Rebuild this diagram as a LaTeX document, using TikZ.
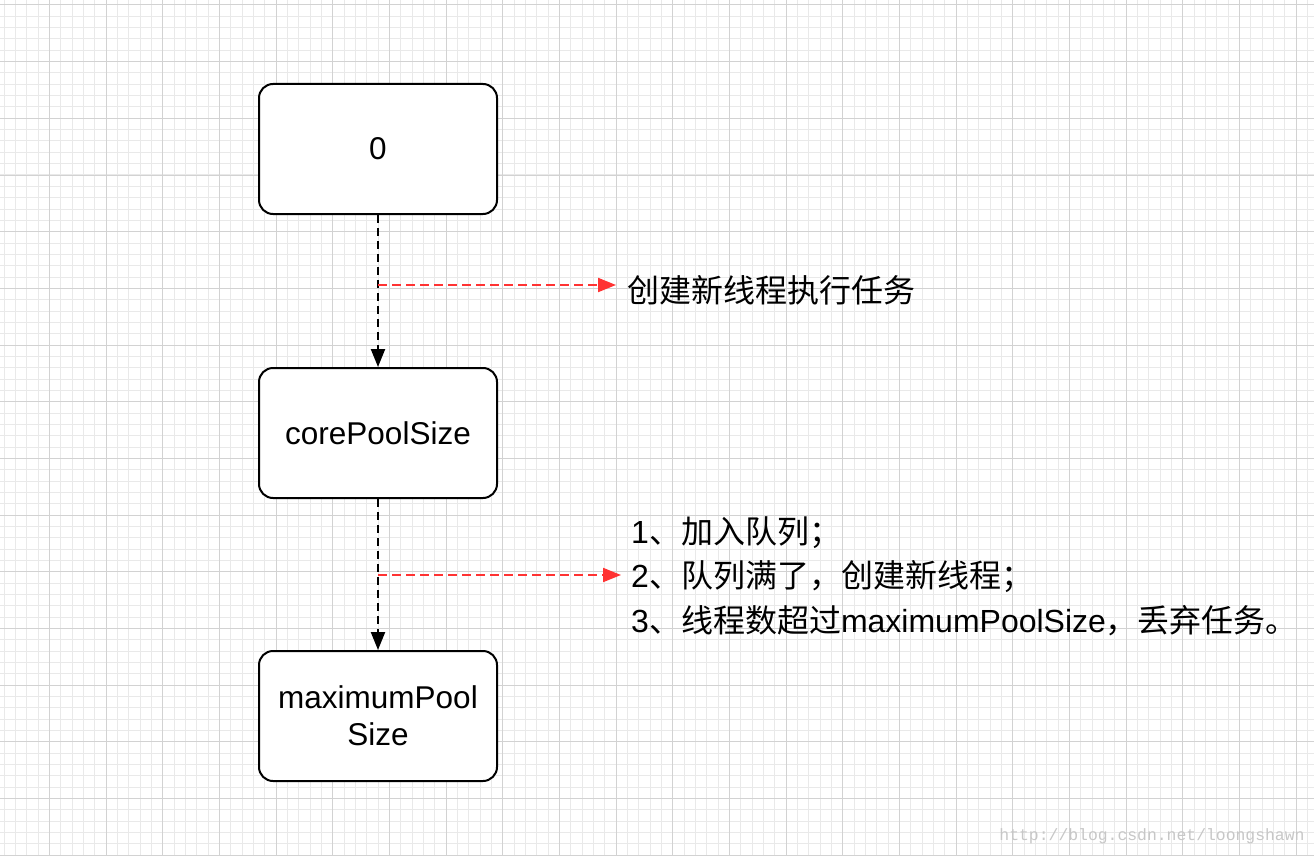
\documentclass[tikz,border=0pt]{standalone}
\usepackage{fontspec}
\setmainfont{Liberation Sans}
\newfontfamily\cjk{Noto Sans CJK SC}
\newfontfamily\wmfont{Liberation Mono}
\usetikzlibrary{arrows.meta}
\newcommand\zh[1]{{\cjk #1}}
\definecolor{gridminor}{HTML}{E9E9E9}
\definecolor{gridmajor}{HTML}{D2D2D2}
\definecolor{redline}{HTML}{FF3333}
\tikzset{
  box/.style={draw, line width=2pt, rounded corners=14pt, fill=white,
    minimum width=238pt, minimum height=130pt, inner sep=0pt,
    font=\fontsize{31.5}{37}\selectfont, align=center},
  blackarrow/.style={line width=2.2pt, dash pattern=on 8pt off 5pt,
    -{Triangle[length=18pt,width=14pt]}},
  redarrow/.style={line width=2pt, draw=redline, dash pattern=on 9pt off 5pt,
    -{Triangle[length=18pt,width=14pt,fill=redline]}},
  note/.style={anchor=west, inner sep=0pt, align=left,
    font=\fontsize{32}{44.5}\selectfont},
}
\begin{document}
\begin{tikzpicture}[x=1pt,y=-1pt]
\useasboundingbox (0,0) rectangle (1314,856);
\fill[white] (0,0) rectangle (1314,856);
% grid
\foreach \i in {0,...,116} \draw[gridminor, line width=1pt] ({4+\i*11.3333},0) -- ++(0,856);
\foreach \i in {0,...,76} \draw[gridminor, line width=1pt] (0,{5+\i*11.3333}) -- ++(1314,0);
\foreach \i in {0,...,23} \draw[gridmajor, line width=1pt] ({-7.33+\i*56.6667},0) -- ++(0,856);
\foreach \i in {0,...,15} \draw[gridmajor, line width=1pt] (0,{5+\i*56.6667}) -- ++(1314,0);
% boxes
\node[box] (b1) at (378,149) {0};
\node[box] (b2) at (378,433) {corePoolSize};
\node[box] (b3) at (378,716) {maximumPool\\Size};
% black arrows
\draw[blackarrow] (b1) -- (b2);
\draw[blackarrow] (b2) -- (b3);
% red arrows
\coordinate (r1s) at (378,285);
\coordinate (r1e) at (616,285);
\coordinate (r2s) at (378,575);
\coordinate (r2e) at (621,575);
\draw[redarrow] (r1s) -- (r1e);
\draw[redarrow] (r2s) -- (r2e);
% notes
\node[note] (t1) at (627,290) {\zh{创建新线程执行任务}};
\node[note] (t2) at (631,576) {1\zh{、加入队列；}\\2\zh{、队列满了，创建新线程；}\\3\zh{、线程数超过}maximumPoolSize\zh{，丢弃任务。}};
% watermark
\node[inner sep=0pt, text=black!22, font=\wmfont\fontsize{16.4}{18}\selectfont] (wm) at (1152,836) {http://blog.csdn.net/loongshawn};
\end{tikzpicture}
\end{document}
